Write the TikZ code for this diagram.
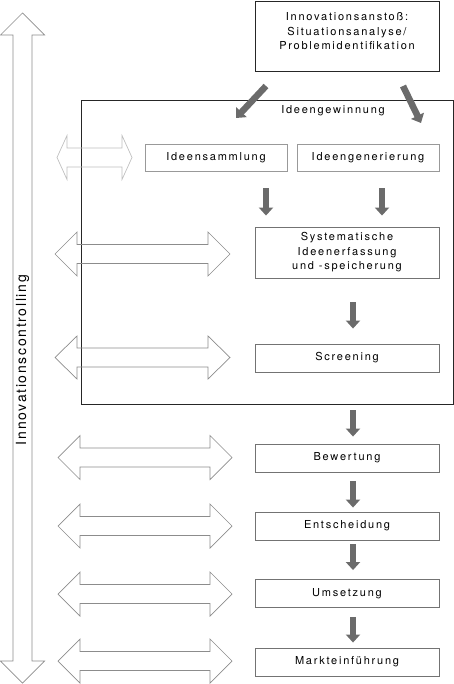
\documentclass[tikz,border=0pt]{standalone}
\usepackage{fontspec}
\setmainfont{TeX Gyre Heros}[LetterSpace=16]
\usetikzlibrary{arrows.meta,calc}
\tikzset{
  box/.style={draw=black!55, line width=0.9pt, fill=white, inner sep=0pt, minimum width=184pt, minimum height=28pt, align=center, font=\fontsize{11}{14.5}\selectfont},
  smallbox/.style={box, minimum width=142pt, minimum height=27pt},
  garrow/.style={draw=black!58, line width=6.5pt, -{Triangle[length=8pt,width=14pt]}},
  hollow/.style={draw=black!45, line width=0.7pt},
  hollowlight/.style={draw=black!25, line width=0.7pt},
}
\newcommand{\hdblarrow}[7]{% style, x1, x2, c, h, s, L
  \draw[#1] (#2,#4) -- ({#2+#7},{#4-#5}) -- ({#2+#7},{#4-#6}) -- ({#3-#7},{#4-#6}) -- ({#3-#7},{#4-#5}) -- (#3,#4)
    -- ({#3-#7},{#4+#5}) -- ({#3-#7},{#4+#6}) -- ({#2+#7},{#4+#6}) -- ({#2+#7},{#4+#5}) -- cycle;}
\begin{document}
\begin{tikzpicture}[x=1pt,y=-1pt]
\useasboundingbox (0,0) rectangle (454,684);
% big vertical double arrow
\draw[hollow] (22.5,13) -- (44.5,35) -- (32,35) -- (32,661) -- (44.5,661) -- (22.5,683) -- (0.5,661) -- (13,661) -- (13,35) -- (0.5,35) -- cycle;
\node[rotate=90, font=\fontsize{14}{16}\selectfont\addfontfeatures{LetterSpace=12}] (ic) at (22.5,360) {Innovationscontrolling};
% frame
\draw[draw=black!85, line width=0.8pt] (81,100) rectangle (453,404);
\node[font=\fontsize{11}{15}\selectfont] (idg) at (333,111) {Ideengewinnung};
% horizontal double arrows
\hdblarrow{hollowlight}{57}{132}{157.5}{22}{9.5}{10}
\hdblarrow{hollow}{55}{230}{254}{22}{9.5}{22}
\hdblarrow{hollow}{55}{230}{357.5}{21.5}{9.5}{22}
\hdblarrow{hollow}{58}{232}{457.5}{22}{9.5}{22}
\hdblarrow{hollow}{58}{232}{526}{22}{9.5}{22}
\hdblarrow{hollow}{58}{232}{594}{22}{9.5}{22}
\hdblarrow{hollow}{58}{232}{661}{22}{9.5}{22}
% boxes
\node[box, draw=black!85, line width=0.9pt, minimum height=70pt] (top) at (347,36) {};
\node[align=center, inner sep=0pt, font=\fontsize{11}{14.5}\selectfont] (toptext) at (347,31.5) {Innovationsansto\ss:\\Situationsanalyse/\\Problemidentifikation};
\node[smallbox, draw=black!40] (sam) at (216,157.5) {Ideensammlung};
\node[smallbox, draw=black!40] (gen) at (368,157.5) {Ideengenerierung};
\node[box, minimum height=51pt] (sys) at (347,252.5) {Systematische\\Ideenerfassung\\und -speicherung};
\node[box] (scr) at (347,358) {Screening};
\node[box] (bew) at (347,458) {Bewertung};
\node[box] (ent) at (347,526) {Entscheidung};
\node[box] (ums) at (347,593.5) {Umsetzung};
\node[box] (mkt) at (347,662) {Markteinf\"uhrung};
% gray arrows
\coordinate (tl) at (266,86); \coordinate (tle) at (236,118);
\coordinate (tr) at (403,86); \coordinate (tre) at (421,123);
\draw[garrow] (tl) -- (tle);
\draw[garrow] (tr) -- (tre);
\draw[garrow] ($(sam.south)+(50,17)$) -- ($(sys.north)+(-81,-11)$);
\draw[garrow] ($(gen.south)+(14,17)$) -- ($(sys.north)+(35,-11)$);
\draw[garrow] ($(sys.south)+(6,24)$) -- ($(scr.north)+(6,-15)$);
\draw[garrow] ($(scr.south)+(6,38)$) -- ($(bew.north)+(6,-7)$);
\draw[garrow] ($(bew.south)+(6,9)$) -- ($(ent.north)+(6,-4)$);
\draw[garrow] ($(ent.south)+(6,4)$) -- ($(ums.north)+(6,-9)$);
\draw[garrow] ($(ums.south)+(6,9)$) -- ($(mkt.north)+(6,-5)$);
\end{tikzpicture}
\end{document}
